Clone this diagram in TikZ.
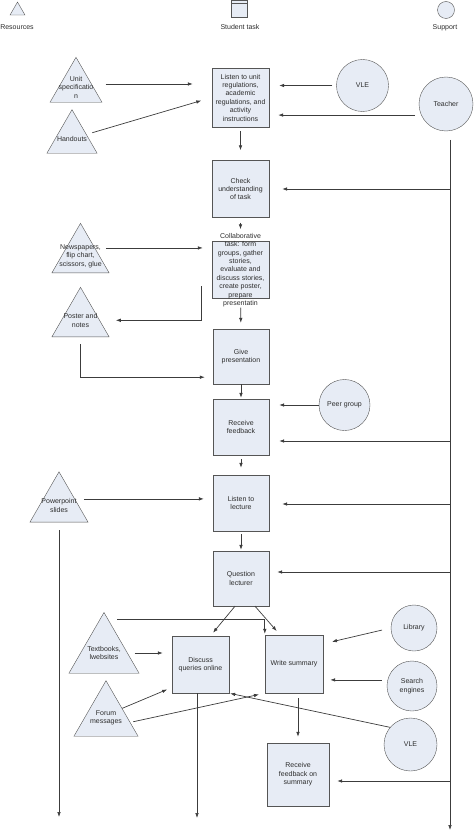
\documentclass[tikz,border=0pt]{standalone}
\usepackage{fontspec}
\setmainfont{Liberation Sans}
\usetikzlibrary{shapes.geometric,arrows.meta,calc}

\begin{document}
\begin{tikzpicture}[x=1pt,y=-1pt,
  >={Latex[length=5pt,width=3.6pt]},
  every node/.style={font=\fontsize{7}{8.4}\selectfont, text=textgrey},
  task/.style={draw=edgegrey, fill=boxfill, rectangle, align=center, inner sep=1pt,
    minimum width=57pt, minimum height=57pt},
  resource/.style={draw=edgegrey, fill=boxfill, regular polygon, regular polygon sides=3,
    inner sep=0pt, minimum size=#1},
  support/.style={draw=edgegrey, fill=boxfill, circle, align=center, inner sep=0pt, minimum size=#1},
  inside/.style={align=center, inner sep=0pt},
  flow/.style={draw=linegrey, line width=0.7pt, ->}]
\definecolor{boxfill}{RGB}{231,236,245}
\definecolor{edgegrey}{RGB}{85,85,85}
\definecolor{linegrey}{RGB}{60,60,60}
\definecolor{textgrey}{RGB}{45,45,45}

\useasboundingbox (0,0) rectangle (474,832);

% legend
\node[resource=17.3] (legres) at (17.5,10.7) {};
\node (legrestext) at (17,27) {Resources};
\node[task, minimum width=16pt, minimum height=16.5pt] (legtask) at (239,8.8) {};
\path[draw=edgegrey] ([yshift=-2.5pt]legtask.north west) -- ([yshift=-2.5pt]legtask.north east);
\node (legtasktext) at (240,27) {Student task};
\node[support=17] (legsup) at (446,10) {};
\node (legsuptext) at (445,28) {Support};

% resources
\node[resource=60, label={[inside]center:{Unit\\specificatio\\n}}] (unitspec) at (76,87.3) {};
\node[resource=58, label={[inside]center:Handouts}] (handouts) at (72,138.7) {};
\node[resource=66, label={[inside]center:{Newspapers,\\flip chart,\\scissors, glue}}] (papers) at (80.5,256.3) {};
\node[resource=66, label={[inside]center:{Poster and\\notes}}] (poster) at (80.5,320.3) {};
\node[resource=67, label={[inside]center:{Powerpoint\\slides}}] (slides) at (59,505.3) {};
\node[resource=81, label={[inside]center:{Textbooks,\\lwebsites}}] (books) at (104,653) {};
\node[resource=74, label={[inside]center:{Forum\\messages}}] (forum) at (106,717.7) {};

% student tasks
\node[task, minimum height=59pt] (intro) at (240.5,97.5) {Listen to unit\\regulations,\\academic\\regulations, and\\activity\\instructions};
\node[task] (check) at (240.5,189) {Check\\understanding\\of task};
\node[task, label={[inside]center:{Collaborative\\task: form\\groups, gather\\stories,\\evaluate and\\discuss stories,\\create poster,\\prepare\\presentatin}}] (collab) at (240.5,270) {};
\node[task, minimum width=56pt, minimum height=55pt] (present) at (241,356.5) {Give\\presentation};
\node[task, minimum width=56pt, minimum height=56pt] (feedback) at (241,427) {Receive\\feedback};
\node[task, minimum width=56pt, minimum height=56pt] (lecture) at (241,503) {Listen to\\lecture};
\node[task, minimum width=56pt, minimum height=55pt] (question) at (241,578.5) {Question\\lecturer};
\node[task] (discuss) at (200.5,664.5) {Discuss\\queries online};
\node[task, minimum width=58pt, minimum height=58pt] (summary) at (294,664) {Write summary};
\node[task, minimum width=62pt, minimum height=63pt] (sumfeedback) at (298,774.5) {Receive\\feedback on\\summary};

% support
\node[support=52] (vle) at (362.5,85.5) {VLE};
\node[support=54] (teacher) at (446,104) {Teacher};
\node[support=51] (peer) at (344.5,405) {Peer group};
\node[support=46] (library) at (414,628) {Library};
\node[support=50] (search) at (412,686) {Search\\engines};
\node[support=53] (vletwo) at (410.5,744.5) {VLE};

% teacher line and its branches
\coordinate (trunk) at (450,830);
\coordinate (t2) at (450,189);
\coordinate (t5) at (450,441);
\coordinate (t6) at (450,504);
\coordinate (t7) at (450,572);
\coordinate (t10) at (450,781);
\coordinate (slidesend) at (59,817);
\coordinate (discend) at (197,818);

\path[flow, shorten <=9pt] (teacher.-80 -| trunk) -- (trunk);
\path[flow, shorten >=13pt] (t2) -- (t2 -| check.east);
\path[flow, shorten >=10pt] (t5) -- (t5 -| feedback.east);
\path[flow, shorten >=13pt] (t6) -- (t6 -| lecture.east);
\path[flow, shorten >=8pt] (t7) -- (t7 -| question.east);
\path[flow, shorten >=8pt] (t10) -- (t10 -| sumfeedback.east);

% upper part
\path[flow, shorten <=14pt, shorten >=19pt] (unitspec.12) -- (unitspec.12 -| intro.west);
\path[flow, shorten <=6pt, shorten >=11pt] (handouts) -- (intro.west);
\path[flow, shorten <=4pt, shorten >=10pt] (vle.west) -- (vle.west -| intro.east);
\path[flow, shorten <=6pt, shorten >=9pt] (teacher.204) -- (teacher.204 -| intro.east);
\path[flow, shorten <=4pt, shorten >=10pt] (intro) -- (check);
\path[flow, shorten <=5pt, shorten >=12pt] (check) -- (collab);
\path[flow, shorten <=11pt, shorten >=9pt] (papers.30) -- (papers.30 -| collab.west);
\path[flow, shorten >=16pt] ([xshift=-10pt,yshift=-16pt]collab.west) |- (poster);
\path[flow, shorten <=7pt, shorten >=8pt] (poster) |- ([yshift=7pt]present.south west);
\path[flow, shorten <=9pt, shorten >=6pt] (collab) -- (present);
\path[flow, shorten >=1pt] (present) -- (feedback);
\path[flow, shorten >=10pt] (peer.west) -- (peer.west -| feedback.east);
\path[flow, shorten <=4pt, shorten >=7pt] (feedback) -- (lecture);
\path[flow, shorten <=9pt, shorten >=9pt] (slides.22) -- (slides.22 -| lecture.west);
\path[flow, shorten <=3pt, shorten >=1pt] (lecture) -- (question);
\path[flow, shorten <=8pt] (slides.side 2) -- (slidesend);

% lower part
\path[flow, shorten >=4pt] ([xshift=-6pt]question.south) -- ([xshift=10pt]discuss.north);
\path[flow, shorten >=5pt] ([xshift=14pt]question.south) -- ([xshift=-14pt]summary.north);
\path[flow, shorten <=7pt, shorten >=9pt] (books.east) -- (books.east -| discuss.west);
\path[flow, shorten >=1pt] ([xshift=13pt,yshift=-7pt]books.corner 1) -| (summary.north west);
\path[flow, shorten >=5pt] (forum.side 3) -- ([yshift=-23pt]discuss.west);
\path[flow, shorten <=3pt, shorten >=6pt] ($(forum.corner 3)!0.25!(forum.corner 1)$) -- (summary.south west);
\path[flow, shorten <=9pt, shorten >=9pt] (library.west) -- ([yshift=-9pt]summary.north east);
\path[flow, shorten <=6pt, shorten >=7pt] (search.166) -- (search.166 -| summary.east);
\path[flow, shorten >=1pt] (vletwo.140) -- (discuss.south east);
\path[flow, shorten <=5pt, shorten >=6pt] (summary.south -| sumfeedback.north) -- (sumfeedback.north);
\path[flow] (discuss.south -| discend) -- (discend);
\end{tikzpicture}
\end{document}
